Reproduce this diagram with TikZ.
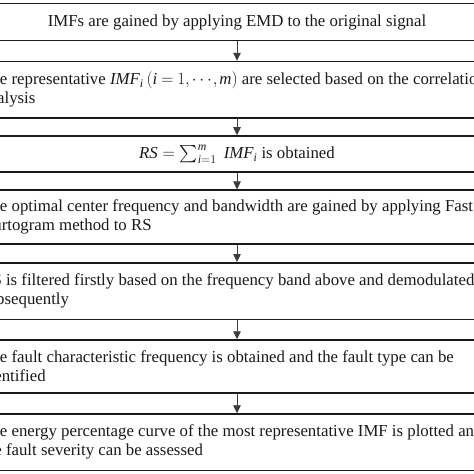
\documentclass[tikz,border=0pt]{standalone}
\usepackage{amsmath}
\usepackage{fontspec}
\setmainfont{Liberation Serif}
\usetikzlibrary{arrows.meta,positioning}
\definecolor{ink}{HTML}{1A1A1A}
\definecolor{flowgray}{HTML}{3C3C3C}
\newcommand{\imfi}{\textit{IMF}_{\textit{i}}}
\hfuzz=200pt

\begin{document}
\begin{tikzpicture}[
  x=1bp,y=-1bp,
  font=\fontsize{16.8bp}{19bp}\selectfont,
  stepbox/.style={draw=ink,line width=1.5bp,fill=white,text=ink,
                  text width=511.4bp,inner xsep=6bp,inner ysep=0pt},
  onerow/.style={stepbox,align=flush center},
  tworow/.style={stepbox,align=flush left},
  flowarrow/.style={-{Triangle[length=8bp,width=7.5bp]},line width=.8bp,draw=flowgray}
]
\path[use as bounding box,clip] (0,0) rectangle (474,474);
\fill[white] (0,0) rectangle (474,474);

\node[onerow,minimum height=37.4bp] (emd) at (237,22)
  {IMFs are gained by applying EMD to the original signal};
\node[tworow,minimum height=56.5bp] (select) at (237,89.8)
  {\mbox{The representative $\imfi\mkern3mu(\textit{i}\mkern4mu{=}\mkern4mu1{,}\mkern2mu{\cdots}\mkern1mu{,}\mkern2mu\textit{m})$ are selected based on the correlation}\\analysis};
\node[onerow,minimum height=36bp] (rsum) at (237,154)
  {$\textit{RS}=\sum_{\textit{i}=1}^{\textit{m}}\ \imfi$ is obtained};
\node[tworow,minimum height=54bp] (kurt) at (237,217.2)
  {\mbox{The optimal center frequency and bandwidth are gained by applying Fast}\\Kurtogram method to RS};
\node[tworow,minimum height=56.5bp] (demod) at (237,291)
  {\mbox{RS is filtered firstly based on the frequency band above and demodulated}\\subsequently};
\node[tworow,minimum height=53bp] (ftype) at (237,366.5)
  {\mbox{The fault characteristic frequency is obtained and the fault type can be}\\identified};
\node[tworow,minimum height=56.5bp] (energy) at (237,442.3)
  {\mbox{The energy percentage curve of the most representative IMF is plotted and}\\the fault severity can be assessed};

\draw[flowarrow] (emd) -- (select);
\draw[flowarrow] (select) -- (rsum);
\draw[flowarrow] (rsum) -- (kurt);
\draw[flowarrow] (kurt) -- (demod);
\draw[flowarrow] (demod) -- (ftype);
\draw[flowarrow] (ftype) -- (energy);
\end{tikzpicture}
\end{document}
